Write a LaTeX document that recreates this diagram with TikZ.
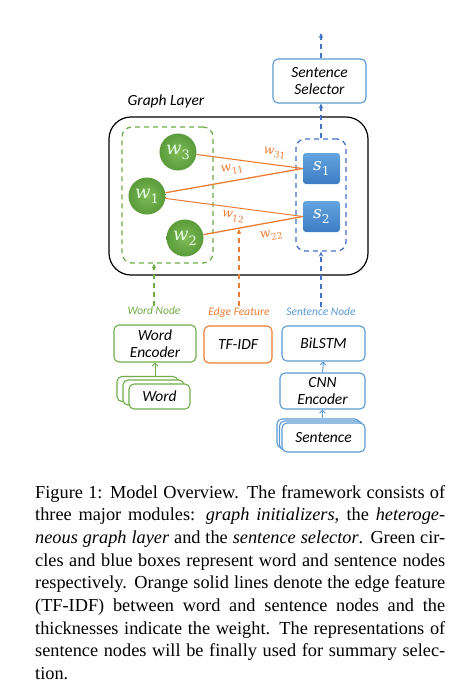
\documentclass[tikz,border=0pt]{standalone}
\usepackage{fontspec}
\setmainfont{Liberation Serif}
\newfontfamily\carl{Carlito}
\newfontfamily\mvfont{DejaVu Serif}
\newcommand{\mv}[2]{{\mvfont\itshape #1}\raisebox{-0.28em}{\mvfont\fontsize{0.72\dimexpr\csname f@size\endcsname pt\relax}{1em}\selectfont #2}}
\usetikzlibrary{arrows.meta}
\definecolor{gr}{HTML}{70AD47}
\definecolor{grin}{HTML}{80BB58}
\definecolor{grout}{HTML}{5A9B3A}
\definecolor{bl}{HTML}{5B9BD5}
\definecolor{bld}{HTML}{4472C4}
\definecolor{bltop}{HTML}{62A4DF}
\definecolor{blbot}{HTML}{3C7DC4}
\definecolor{org}{HTML}{ED7D31}
\begin{document}
\begin{tikzpicture}[x=1pt,y=-1pt,
  dtext/.style={font=\carl\itshape\fontsize{15.5}{17.5}\selectfont, align=center, inner sep=0pt},
  boxb/.style={dtext, draw=#1, line width=1.1pt, rounded corners=5pt, fill=white},
  wnode/.style={circle, minimum size=37pt, inner sep=0pt, inner color=grin, outer color=grout, text=white!90!green, font=\fontsize{18}{18}\selectfont},
  snode/.style={rectangle, rounded corners=3pt, minimum width=37pt, minimum height=31pt, inner sep=0pt, top color=bltop, bottom color=blbot, text=white, font=\fontsize{17}{17}\selectfont},
  edgew/.style={draw=org, line width=#1},
  elab/.style={text=org, font=\fontsize{12.5}{12.5}\selectfont, inner sep=0pt, sloped},
  darr/.style={draw=#1, line width=1.3pt, dash pattern=on 5pt off 4pt, -{Stealth[length=5pt,width=4.5pt]}},
  oarr/.style={draw=#1, line width=0.9pt, -{Straight Barb[length=3pt,width=6pt]}},
  smlab/.style={font=\carl\itshape\fontsize{11.5}{12}\selectfont, inner sep=1pt}
]
\useasboundingbox[fill=white] (0,0) rectangle (474,688);

% graph layer
\node[draw=black, line width=1.2pt, rounded corners=22pt, minimum width=259pt, minimum height=158pt, inner sep=0pt] (graph) at (238.5,196) {};
\node[dtext] (gltitle) at (166,101) {Graph Layer};
\node[draw=gr, line width=1.3pt, dash pattern=on 5pt off 4pt, rounded corners=10pt, minimum width=91pt, minimum height=136pt, inner sep=0pt] (gbox) at (167.5,195) {};
\node[draw=bld, line width=1.3pt, dash pattern=on 5pt off 4pt, rounded corners=9pt, minimum width=50pt, minimum height=112pt, inner sep=0pt] (bbox) at (321,195) {};

\node[wnode] (w3) at (178,152) {\mv{w}{3}};
\node[wnode] (w1) at (147,196) {\mv{w}{1}};
\node[wnode] (w2) at (185,238) {\mv{w}{2}};
\node[snode] (s1) at (321.5,168.5) {\mv{s}{1}};
\node[snode] (s2) at (321.5,216.5) {\mv{s}{2}};

\draw[edgew=1.1pt] (w3) -- (s1.west) node[elab, pos=0.72, above=6pt] (l31) {\mv{w}{31}};
\draw[edgew=1.3pt] (w1) -- (s1.west) node[elab, pos=0.5, above=6pt] (l11) {\mv{w}{11}};
\draw[edgew=1.0pt] (w1) -- (s2.west) node[elab, pos=0.5, below=4pt] (l12) {\mv{w}{12}};
\draw[edgew=1.3pt] (w2) -- (s2.west) node[elab, pos=0.66, below=7pt] (l22) {\mv{w}{22}};

% sentence selector
\node[boxb=bl, minimum width=93pt, minimum height=44pt] (sel) at (319.5,81) {Sentence\\Selector};
\coordinate (outtip) at (321,33);
\draw[darr=bld] (sel.north -| outtip) -- (outtip);
\draw[darr=bld] (bbox.north) -- (bbox.north |- sel.south);

% labels
\node[smlab, text=gr] (wnl) at (154,311) {Word Node};
\node[smlab, text=org] (efl) at (239,312) {Edge Feature};
\node[smlab, text=bl] (snl) at (321,312) {Sentence Node};
\coordinate (etip) at (239,229);
\draw[darr=gr] (wnl.north) -- (wnl.north |- gbox.south);
\draw[darr=org] (efl.north) -- (etip);
\draw[darr=bld] (snl.north) -- (snl.north |- bbox.south);

% encoders
\node[boxb=gr, minimum width=82pt, minimum height=37pt] (wenc) at (155,343.5) {Word\\Encoder};
\node[boxb=org, minimum width=68pt, minimum height=37pt] (tfidf) at (238,344.5) {TF-IDF};
\node[boxb=bl, minimum width=83pt, minimum height=35pt] (bil) at (323.5,343.5) {BiLSTM};
\node[boxb=bl, minimum width=85pt, minimum height=36pt] (cnn) at (322.5,391) {CNN\\Encoder};

% word stack
\node[boxb=gr, minimum width=61pt, minimum height=25pt] (wb2) at (147.5,389) {};
\node[boxb=gr, minimum width=61pt, minimum height=25pt] (wb1) at (153.5,392.5) {};
\node[boxb=gr, minimum width=61pt, minimum height=25pt] (word) at (159.5,396.5) {Word};
% sentence stack
\node[boxb=bl, minimum width=83pt, minimum height=29pt] (sb2) at (318.5,433.5) {};
\node[boxb=bl, minimum width=83pt, minimum height=29pt] (sb1) at (321,435.5) {};
\node[boxb=bl, minimum width=83pt, minimum height=29pt] (sent) at (323.5,437.5) {Sentence};

\draw[oarr=gr] (wb2.north -| wenc.south) -- (wenc.south);
\draw[oarr=bl] (cnn.north) -- (bil.south);
\draw[oarr=bl] (sb2.north -| cnn.south) -- (cnn.south);

% caption
\node[anchor=north west, inner sep=0pt, text width=410pt, align=justify,
      font=\fontsize{18.3}{22.7}\selectfont] (cap) at (35,485) {%
Figure 1: Model Overview. The framework consists of\linebreak
three major modules: \textit{graph initializers}, the \textit{heteroge-}\linebreak
\textit{neous graph layer} and the \textit{sentence selector}. Green cir-\linebreak
cles and blue boxes represent word and sentence nodes\linebreak
respectively. Orange solid lines denote the edge feature\linebreak
(TF-IDF) between word and sentence nodes and the\linebreak
thicknesses indicate the weight. The representations of\linebreak
sentence nodes will be finally used for summary selec-\linebreak
tion.};
\end{tikzpicture}
\end{document}
